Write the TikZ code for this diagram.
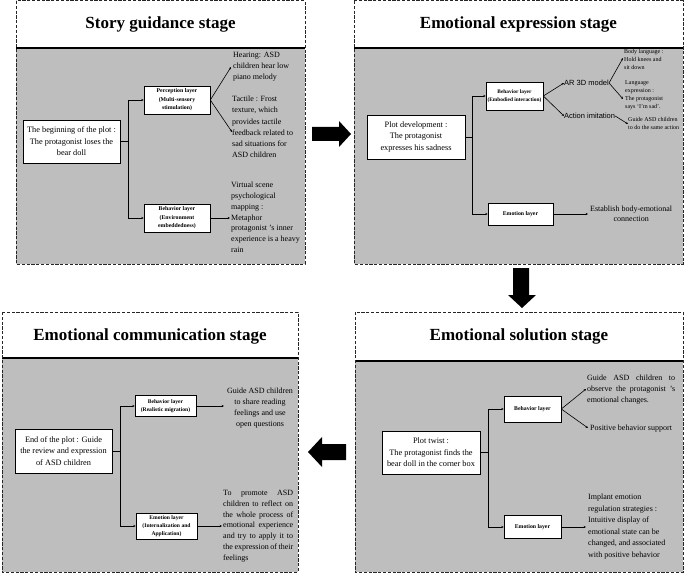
\documentclass[tikz,border=0pt]{standalone}
\usepackage{fontspec}
\setmainfont{Liberation Serif}
\newfontfamily\arialf{Liberation Sans}
\usetikzlibrary{arrows.meta}
\definecolor{bggrey}{RGB}{190,190,190}
\newcommand{\fsz}[2]{\fontsize{#1}{#2}\selectfont}
\newcommand{\jl}[2]{\makebox[#1][s]{#2}}
\tikzset{
  panel/.style={draw=black!85, line width=1pt, dash pattern=on 3.2pt off 1.6pt},
  sepline/.style={line width=1.3pt},
  ttl/.style={font=\bfseries\fsz{17}{20}, inner sep=0pt},
  mainbox/.style={draw, line width=0.6pt, fill=white, align=center, inner sep=0pt, font=\fsz{8.3}{11.5}},
  layerbox/.style={draw, line width=0.6pt, fill=white, align=center, inner sep=0pt, font=\bfseries\fsz{5.8}{8.5}},
  side/.style={inner sep=0pt, font=\fsz{8}{11}, align=left},
  tinytext/.style={inner sep=0pt, font=\fsz{6}{8}, align=left},
  sanslabel/.style={inner sep=0pt, anchor=west, font=\arialf\fsz{7.5}{9}},
  link/.style={line width=0.6pt},
  conn/.style={line width=0.6pt, -{Stealth[length=2.4pt,width=2.2pt]}},
  bigarrow/.style={fill=black}
}
\begin{document}
\begin{tikzpicture}[x=1pt,y=-1pt]
\useasboundingbox (0,0) rectangle (685,575);
% ---------- panel backgrounds ----------
\fill[bggrey] (16,48) rectangle (305,264);
\fill[bggrey] (354,48) rectangle (683,264);
\fill[bggrey] (2,358) rectangle (298,572);
\fill[bggrey] (355,361) rectangle (683,572);
\draw[sepline] (16,48) -- (305,48);
\draw[sepline] (354,48) -- (683,48);
\draw[sepline] (2,358) -- (298,358);
\draw[sepline] (355,361) -- (683,361);
\draw[panel] (16,1) rectangle (305,264);
\draw[panel] (354,1) rectangle (683,264);
\draw[panel] (2,312) rectangle (298,572);
\draw[panel] (355,312) rectangle (683,572);
% ---------- big arrows between panels ----------
\fill[bigarrow] (312,127) -- (339,127) -- (339,121) -- (351,134) -- (339,147) -- (339,141) -- (312,141) -- cycle;
\fill[bigarrow] (513,268) -- (529,268) -- (529,295) -- (536,295) -- (522,308) -- (508,295) -- (513,295) -- cycle;
\fill[bigarrow] (346,444) -- (322,444) -- (322,437) -- (308,452) -- (322,467) -- (322,460) -- (346,460) -- cycle;

% ================= Panel 1 =================
\node[ttl] (ttl1) at (160.5,24) {Story guidance stage};
\node[mainbox, minimum width=97pt, minimum height=43pt] (m1) at (71.5,141.5) {The beginning of the plot :\\ The protagonist loses the\\bear doll};
\node[layerbox, minimum width=66pt, minimum height=28pt] (p1) at (177,100) {Perception layer\\(Multi-sensory\\stimulation)};
\node[layerbox, minimum width=66pt, minimum height=28pt] (b1) at (177,218) {Behavior layer\\(Environment\\embeddedness)};
\coordinate (j1) at (128,141.5);
\draw[link] (m1.east) -- (j1);
\draw[conn] (j1) |- (p1.west);
\draw[conn] (j1) |- (b1.west);
\node[side, anchor=north west] (t1a) at (233,52) {Hearing: ASD\\children hear low\\piano melody};
\node[side, anchor=north west, font=\fsz{8}{11.2}] (t1b) at (232,96) {Tactile : Frost\\texture, which\\provides tactile\\feedback related to\\sad situations for\\ASD children};
\node[side, anchor=north west, font=\fsz{8}{10.8}] (t1c) at (231,182) {Virtual scene\\psychological\\mapping :\\Metaphor\\protagonist 's inner\\experience is a heavy\\rain};
\coordinate (h1a) at (231,67);
\coordinate (h1b) at (232,132);
\coordinate (h1c) at (230,218);
\draw[conn] (p1.east) -- (h1a);
\draw[conn] (p1.east) -- (h1b);
\draw[conn] (b1.east) -- (h1c);

% ================= Panel 2 =================
\node[ttl] (ttl2) at (518.5,24) {Emotional expression stage};
\node[mainbox, minimum width=98pt, minimum height=44pt] (m2) at (416,137) {Plot development :\\The protagonist\\expresses his sadness};
\node[layerbox, font=\bfseries\fsz{5.4}{7.8}, minimum width=57pt, minimum height=28pt] (b2) at (514.5,96) {Behavior layer\\(Embodied interaction)};
\node[layerbox, minimum width=65pt, minimum height=22pt] (e2) at (520.5,214) {Emotion layer};
\coordinate (j2) at (472,137);
\draw[link] (m2.east) -- (j2);
\draw[conn] (j2) |- (b2.west);
\draw[conn] (j2) |- (e2.west);
\node[sanslabel] (ar) at (564,83) {AR 3D model};
\node[sanslabel] (ai) at (564,116) {Action imitation};
\draw[conn] (b2.east) -- (ar.west);
\draw[conn] (b2.east) -- (ai.west);
\node[tinytext, anchor=north west] (bl) at (624,49.5) {Body language :\\Hold knees and\\sit down};
\node[tinytext, anchor=north west] (le) at (625,80.5) {Language\\expression :\\The protagonist\\says `I'm sad'.};
\node[tinytext, anchor=north west] (ga) at (628,117.5) {Guide ASD children\\to do the same action};
\coordinate (h2a) at (623,58);
\coordinate (h2b) at (623,99);
\coordinate (h2c) at (628,124);
\draw[conn] (ar.east) -- (h2a);
\draw[conn] (ar.east) -- (h2b);
\draw[conn] (ai.east) -- (h2c);
\coordinate (h2d) at (588,214);
\draw[conn] (e2.east) -- (h2d);
\node[inner sep=0pt, font=\fsz{8}{10.5}, align=center, anchor=west] (t2e) at (590,214) {Establish body-emotional\\connection};

% ================= Panel 3 =================
\node[ttl] (ttl3) at (150,336) {Emotional communication stage};
\node[mainbox, minimum width=97pt, minimum height=44pt] (m3) at (63.5,451) {End of the plot : Guide\\the review and expression\\of ASD children};
\node[layerbox, font=\bfseries\fsz{5.6}{8}, minimum width=61pt, minimum height=21pt] (b3) at (165.5,406) {Behavior layer\\(Realistic migration)};
\node[layerbox, font=\bfseries\fsz{5.6}{8}, minimum width=61pt, minimum height=26pt] (e3) at (166.5,526) {Emotion layer\\(Internalization and\\Application)};
\coordinate (j3) at (120,451);
\draw[link] (m3.east) -- (j3);
\draw[conn] (j3) |- (b3.west);
\draw[conn] (j3) |- (e3.west);
\coordinate (h3a) at (224,406);
\draw[conn] (b3.east) -- (h3a);
\node[inner sep=0pt, font=\fsz{8}{10.8}, align=center] (t3a) at (260,408) {Guide ASD children\\to share reading\\feelings and use\\open questions};
\coordinate (h3b) at (222,526);
\draw[conn] (e3.east) -- (h3b);
\node[side, anchor=north west, font=\fsz{8}{10.8}] (t3b) at (223,490) {\jl{70pt}{To promote ASD}\\\jl{70pt}{children to reflect on}\\\jl{70pt}{the whole process of}\\\jl{70pt}{emotional experience}\\\jl{70pt}{and try to apply it to}\\\jl{70pt}{the expression of their}\\feelings};

% ================= Panel 4 =================
\node[ttl] (ttl4) at (519,336) {Emotional solution stage};
\node[mainbox, minimum width=98pt, minimum height=43pt] (m4) at (431,452.5) {Plot twist :\\ The protagonist finds the\\bear doll in the corner box};
\node[layerbox, minimum width=57pt, minimum height=26pt] (b4) at (532.5,409) {Behavior layer};
\node[layerbox, minimum width=57pt, minimum height=23pt] (e4) at (532.5,527) {Emotion layer};
\coordinate (j4) at (488,452.5);
\draw[link] (m4.east) -- (j4);
\draw[conn] (j4) |- (b4.west);
\draw[conn] (j4) |- (e4.west);
\node[side, anchor=north west] (t4a) at (587,375) {\jl{88pt}{Guide ASD children to}\\\jl{88pt}{observe the protagonist 's}\\emotional changes.};
\coordinate (h4a) at (586,389);
\draw[conn] (b4.east) -- (h4a);
\node[side, anchor=west] (t4b) at (590,429) {Positive behavior support};
\coordinate (h4b) at (588,428);
\draw[conn] (b4.east) -- (h4b);
\coordinate (h4c) at (586,527);
\draw[conn] (e4.east) -- (h4c);
\node[side, anchor=north west, font=\fsz{8}{11.5}] (t4c) at (588,494) {Implant emotion\\regulation strategies :\\Intuitive display of\\emotional state can be\\changed, and associated\\with positive behavior};
\end{tikzpicture}
\end{document}
